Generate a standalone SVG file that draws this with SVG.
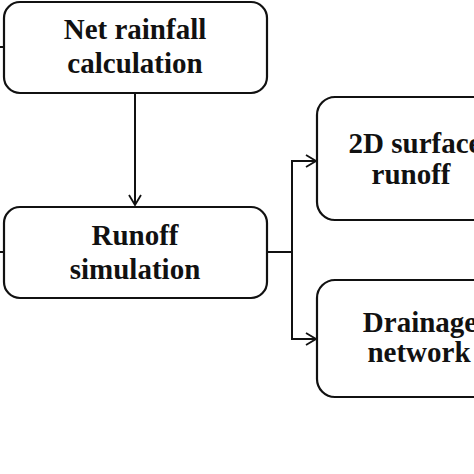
<svg xmlns="http://www.w3.org/2000/svg" width="474" height="474" viewBox="0 0 474 474">
<defs>
<marker id="arr" viewBox="0 0 12 14" refX="11" refY="7" markerWidth="12" markerHeight="14" markerUnits="userSpaceOnUse" orient="auto">
<path d="M1,1 L11,7 L1,13" fill="none" stroke="#111" stroke-width="1.8"/>
</marker>
<style>
.box{fill:#fff;stroke:#111;stroke-width:2.2}
.t{font-family:"Liberation Serif","Times New Roman",serif;font-weight:bold;font-size:29px;fill:#111;text-anchor:middle}
.c{fill:none;stroke:#111;stroke-width:2}
</style>
</defs>
<rect width="474" height="474" fill="#fff"/>
<g id="connectors">
<line class="c" x1="0" y1="47" x2="4" y2="47"/>
<line class="c" x1="0" y1="252" x2="4" y2="252"/>
<line class="c" x1="135" y1="93" x2="135" y2="205" marker-end="url(#arr)"/>
<polyline class="c" points="267,252 292,252"/>
<polyline class="c" points="292,339 292,161 316,161" marker-end="url(#arr)"/>
<polyline class="c" points="292,252 292,339 316,339" marker-end="url(#arr)"/>
</g>
<g id="net-rainfall">
<rect class="box" x="4" y="2" width="263" height="91" rx="16"/>
<text class="t" x="135" y="39">Net rainfall</text>
<text class="t" x="135" y="73">calculation</text>
</g>
<g id="runoff-simulation">
<rect class="box" x="4" y="207" width="263" height="91" rx="16"/>
<text class="t" x="135" y="245">Runoff</text>
<text class="t" x="135" y="279">simulation</text>
</g>
<g id="surface-runoff">
<rect class="box" x="317" y="97" width="200" height="123" rx="18"/>
<text class="t" x="415" y="153">2D surface</text>
<text class="t" x="411" y="184">runoff</text>
</g>
<g id="drainage-network">
<rect class="box" x="317" y="280" width="200" height="117" rx="18"/>
<text class="t" x="420" y="332">Drainage</text>
<text class="t" x="419" y="362">network</text>
</g>
</svg>
